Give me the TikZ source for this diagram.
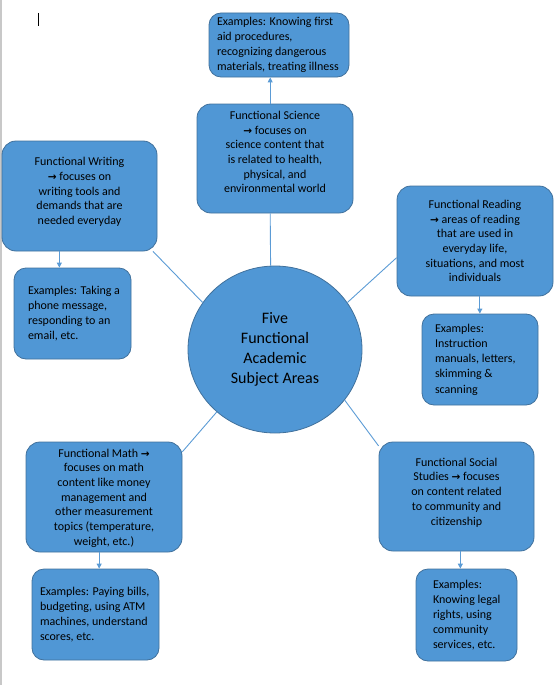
\documentclass[tikz,border=0pt]{standalone}
\usepackage{fontspec}
\setmainfont{Carlito}
\newfontfamily\symf{DejaVu Sans}
\usetikzlibrary{arrows.meta,shapes.geometric}
\definecolor{fillc}{HTML}{5097D5}
\definecolor{bordc}{HTML}{41719C}
\definecolor{linec}{HTML}{5B9BD5}
\definecolor{edgec}{HTML}{C8C8C8}
\newcommand{\myarr}{{\symf\bfseries\fontsize{10.5}{14.7}\selectfont →}}
\newcommand{\exln}[1]{\mbox{#1}}
\begin{document}
\begin{tikzpicture}[x=1pt,y=-1pt,
  boxbase/.style={draw=bordc, fill=fillc, rounded corners=14pt, line width=0.8pt,
    inner sep=0pt},
  box/.style={boxbase, align=center, font=\fontsize{12}{14.7}\selectfont, text depth=10pt},
  exbox/.style={boxbase, rounded corners=12pt, align=flush left, font=\fontsize{12}{15.2}\selectfont},
  hub/.style={draw=bordc, fill=fillc, ellipse, line width=0.8pt, inner sep=0pt,
    align=center, font=\fontsize{16}{20}\selectfont,
    minimum width=174pt, minimum height=167pt},
  conn/.style={draw=linec, line width=0.9pt},
  arr/.style={conn, -{Triangle[length=5pt,width=5pt]}},
  cursorline/.style={draw=black, line width=1pt}]
\useasboundingbox (0,0) rectangle (556,685);
\draw[draw=edgec, line width=1.5pt] (0.75,0) coordinate (eA) -- (0.75,685) coordinate (eB);
\draw[cursorline] (38.5,13) coordinate (cA) -- (38.5,26.5) coordinate (cB);

\node[hub] (circ) at (275,349.5) {Five\\Functional\\Academic\\Subject Areas};

\node[box, text depth=13pt, minimum width=156pt, minimum height=109pt] (sci) at (275,158.5)
  {Functional Science\\\myarr{} focuses on\\science content that\\is related to health,\\physical, and\\environmental world};
\node[exbox, text width=124pt, inner xsep=8pt, minimum height=64pt] (sciex) at (279,45)
  {\exln{Examples: Knowing first}\\\exln{aid procedures,}\\\exln{recognizing dangerous}\\\exln{materials, treating illness}};

\node[box, minimum width=155pt, minimum height=110pt] (wr) at (79.5,196)
  {Functional Writing\\\myarr{} focuses on\\writing tools and\\demands that are\\needed everyday};
\node[exbox, text width=89pt, inner xsep=14pt, minimum height=91pt] (wrex) at (72.5,313.5)
  {\exln{Examples: Taking a}\\\exln{phone message,}\\\exln{responding to an}\\\exln{email, etc.}};

\node[box, text depth=0pt, minimum width=156pt, minimum height=110pt] (rd) at (475,241)
  {Functional Reading\\\myarr{} areas of reading\\that are used in\\everyday life,\\situations, and most\\individuals};
\node[exbox, text width=90pt, inner xsep=13pt, minimum height=91pt] (rdex) at (480,359.5)
  {\exln{Examples:}\\\exln{Instruction}\\\exln{manuals, letters,}\\\exln{skimming \&}\\\exln{scanning}};

\node[box, text depth=0pt, minimum width=156pt, minimum height=110pt] (ma) at (104,497)
  {Functional Math \myarr\\focuses on math\\content like money\\management and\\other measurement\\topics (temperature,\\weight, etc.)};
\node[exbox, text width=111pt, inner xsep=8pt, minimum height=91pt] (maex) at (95.5,614.5)
  {\exln{Examples: Paying bills,}\\\exln{budgeting, using ATM}\\\exln{machines, understand}\\\exln{scores, etc.}};

\node[box, minimum width=155pt, minimum height=109pt] (so) at (456.5,496.5)
  {Functional Social\\Studies \myarr{} focuses\\on content related\\to community and\\citizenship};
\node[exbox, text width=67pt, inner xsep=17pt, minimum height=92pt] (soex) at (466.5,615)
  {\exln{Examples:}\\\exln{Knowing legal}\\\exln{rights, using}\\\exln{community}\\\exln{services, etc.}};

% hub connectors
\draw[conn] (circ.93.5) -- (sci.265);
\draw[conn] (circ.147.5) -- (wr.323);
\draw[conn] (circ.33) -- (rd.192);
\draw[conn] (circ.227.6) -- (ma.30);
\draw[conn] (circ.324.6) -- (so.147.6);

% example arrows
\draw[arr] (sci.95) -- (sci.95 |- sciex.south);
\draw[arr] (wr.250.5) -- (wr.250.5 |- wrex.north);
\draw[arr] (rd.275) -- (rd.275 |- rdex.north);
\draw[arr] (ma.265.8) -- (ma.265.8 |- maex.north);
\draw[arr] (so.274.7) -- (so.274.7 |- soex.north);
\end{tikzpicture}
\end{document}
